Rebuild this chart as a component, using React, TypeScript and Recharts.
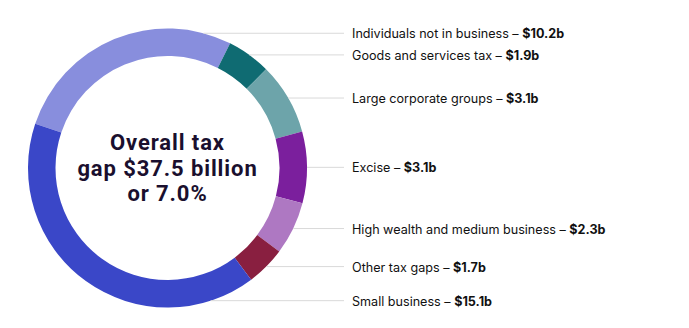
import { PieChart, Pie, Cell } from "recharts";

const categories = [
  "Individuals not in business",
  "Goods and services tax",
  "Large corporate groups",
  "Excise",
  "High wealth and medium business",
  "Other tax gaps",
  "Small business",
];
const gapBillions = [10.2, 1.9, 3.1, 3.1, 2.3, 1.7, 15.1];
const valueLabels = ["$10.2b", "$1.9b", "$3.1b", "$3.1b", "$2.3b", "$1.7b", "$15.1b"];
const centerLines = ["Overall tax", "gap $37.5 billion", "or 7.0%"];

const COLORS = ["#888EDD", "#0F6B72", "#6DA4AA", "#7B1F9D", "#AE78C2", "#891F40", "#3A47C8"];

const data = categories.map((name, i) => ({ name, value: gapBillions[i], label: valueLabels[i] }));

const W = 689;
const H = 328;
const CX = 167.5;
const CY = 168;
const LINE_END = 344;
const TEXT_X = 352;

function SliceLabel(props: any) {
  const { cx, cy, midAngle, outerRadius, index } = props;
  // keep labels on the right-hand side of the ring
  const a = Math.max(-72, Math.min(75, midAngle));
  const rad = (a * Math.PI) / 180;
  const x0 = cx + outerRadius * Math.cos(rad);
  const y = cy - outerRadius * Math.sin(rad);
  return (
    <g>
      <line x1={x0} y1={y} x2={LINE_END} y2={y} stroke="#d9d9d9" strokeWidth={1} />
      <text x={TEXT_X} y={y} dominantBaseline="central" fontSize={12.6} fill="#111" fontFamily="Inter, sans-serif">
        <tspan>{data[index].name} – </tspan>
        <tspan fontWeight={700}>{data[index].label}</tspan>
      </text>
    </g>
  );
}

export default function App() {
  return (
    <div style={{ position: "absolute", left: 0, top: 0, width: W, height: H, background: "#fff" }}>
      <PieChart width={W} height={H} margin={{ top: 0, right: 0, bottom: 0, left: 0 }}>
        <Pie
          data={data}
          dataKey="value"
          nameKey="name"
          cx={CX}
          cy={CY}
          innerRadius={112}
          outerRadius={139.5}
          startAngle={161.5}
          endAngle={-198.5}
          stroke="none"
          label={SliceLabel}
          labelLine={false}
          isAnimationActive={false}
        >
          {data.map((d, i) => (
            <Cell key={d.name} fill={COLORS[i]} />
          ))}
        </Pie>
      </PieChart>
      <div
        style={{
          position: "absolute",
          left: CX - 105,
          width: 210,
          top: CY - 38,
          textAlign: "center",
          fontFamily: "Roboto, sans-serif",
          fontWeight: 700,
          fontSize: 22,
          lineHeight: "25.5px",
          color: "#1a0f2e",
          letterSpacing: 0.9,
        }}
      >
        {centerLines.map((l) => (
          <div key={l}>{l}</div>
        ))}
      </div>
    </div>
  );
}
